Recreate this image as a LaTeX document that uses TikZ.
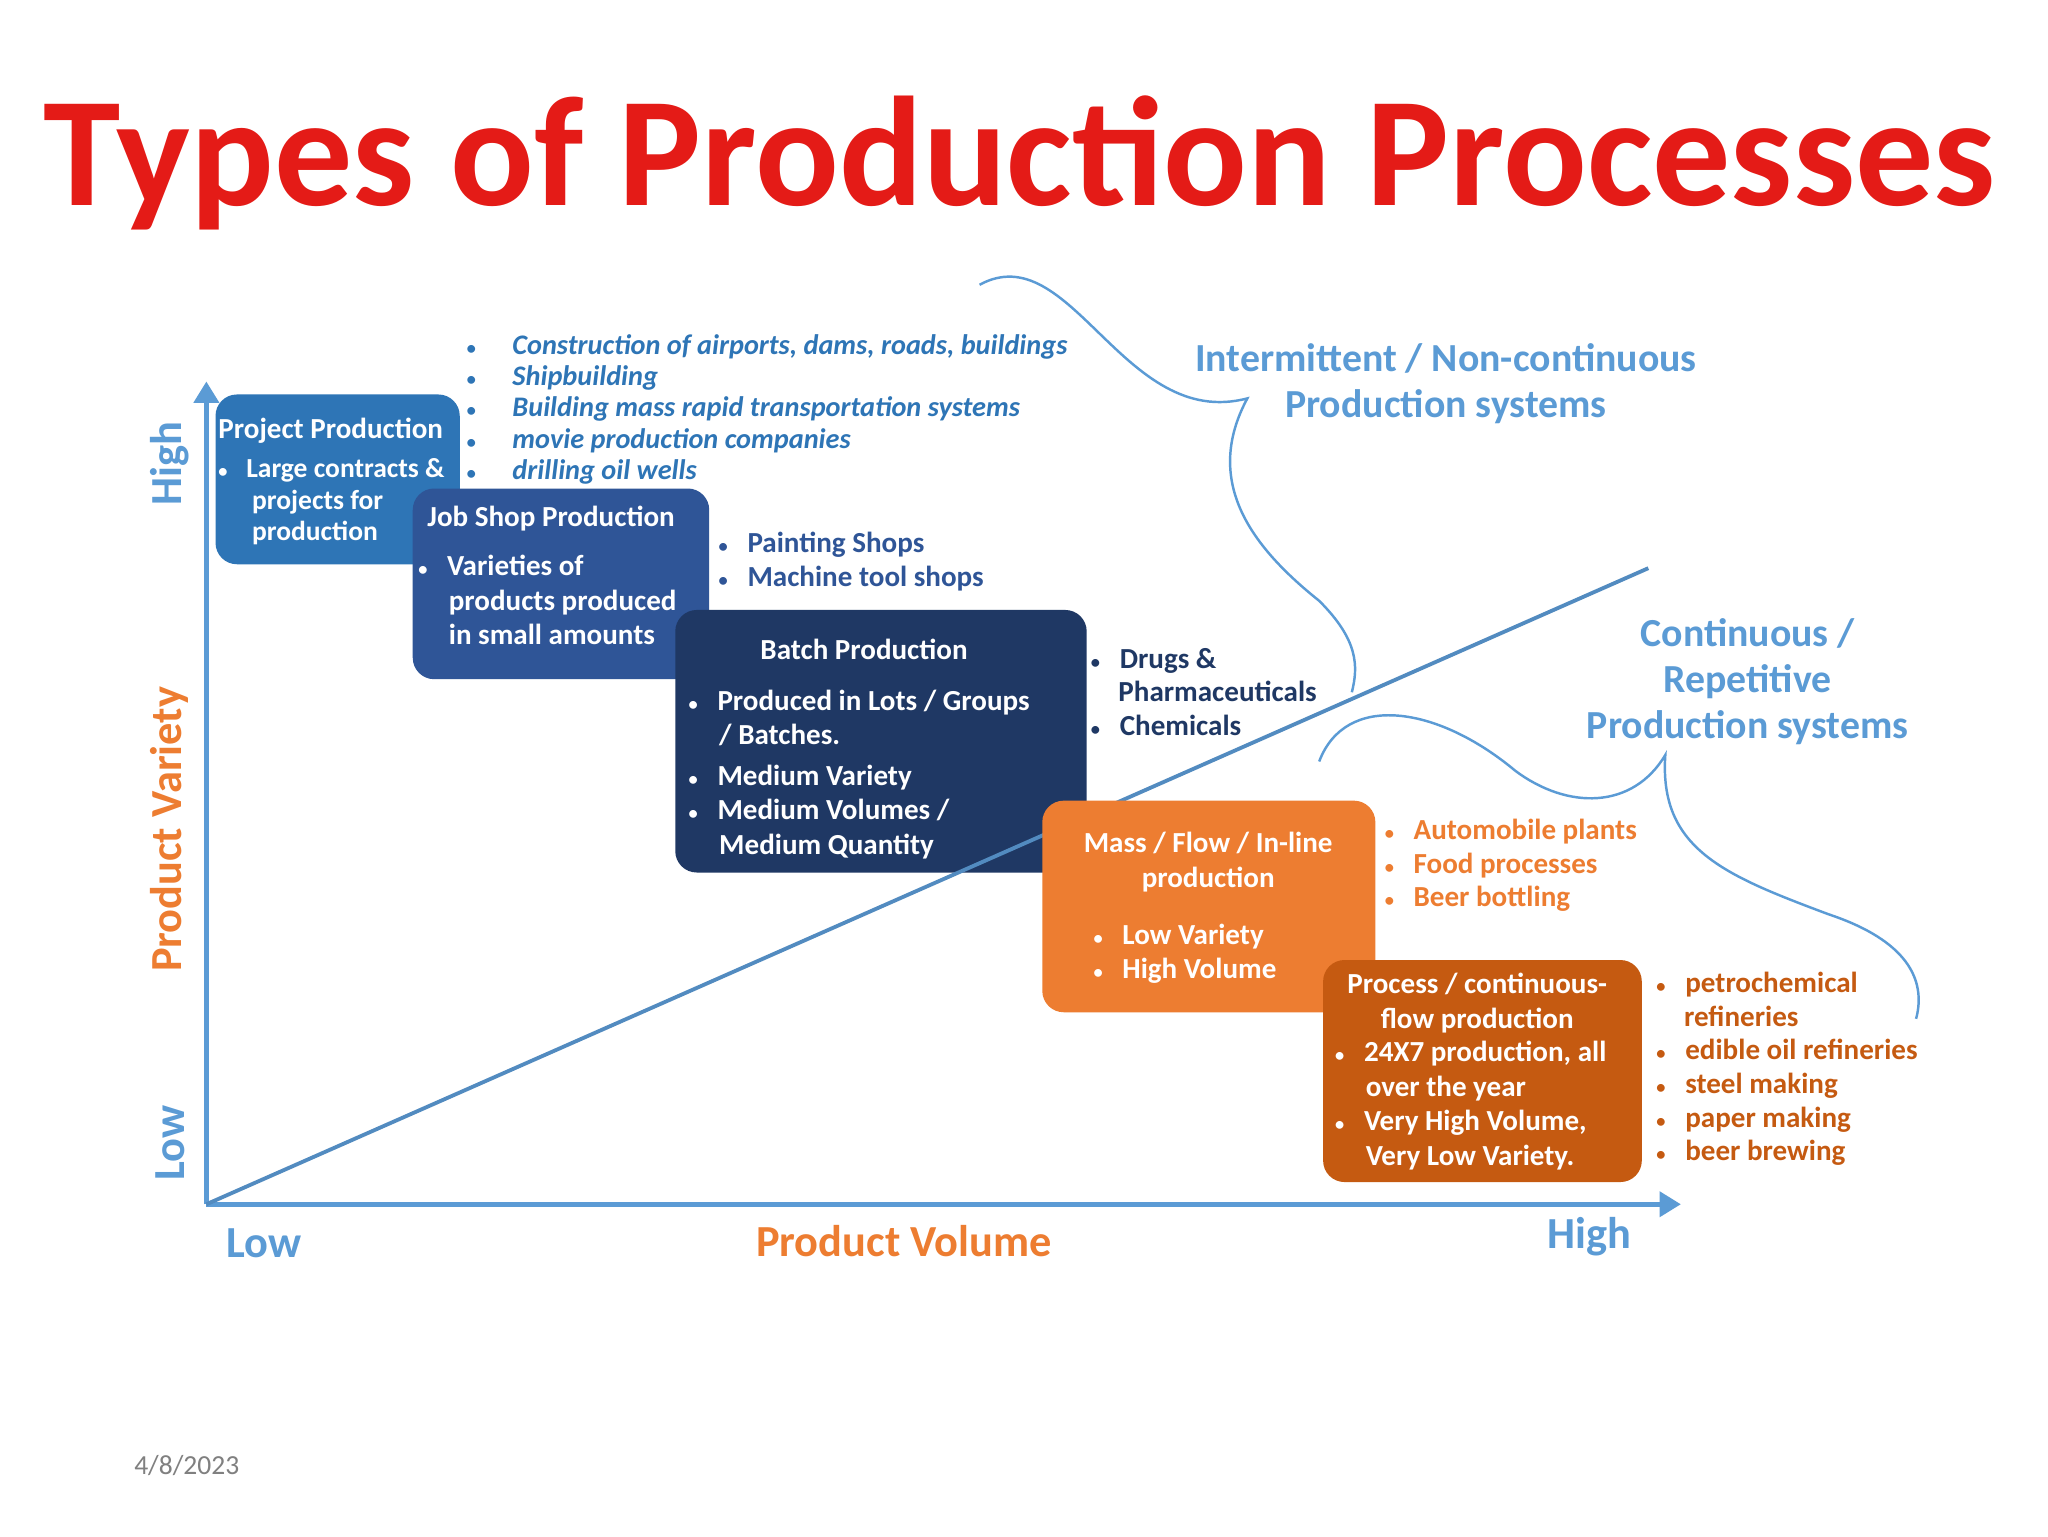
\documentclass[tikz,border=0pt]{standalone}
\usepackage{fontspec}
\setmainfont{Carlito}
\usetikzlibrary{arrows.meta}
\definecolor{cproj}{HTML}{2E75B6}
\definecolor{cjob}{HTML}{2F5597}
\definecolor{cbatch}{HTML}{1F3864}
\definecolor{cmass}{HTML}{ED7D31}
\definecolor{cproc}{HTML}{C55A11}
\definecolor{chead}{HTML}{5B9BD5}
\definecolor{ctitle}{HTML}{E41B17}
\newcommand{\bl}{{\fontsize{12}{12}\selectfont•}}
\begin{document}
\begin{tikzpicture}[x=0.3mm,y=-0.3mm,
  lst/.style={anchor=north west,align=left,font=\bfseries\fontsize{19}{22}\selectfont,inner sep=0pt},
  btxt/.style={anchor=north west,align=left,text=white,font=\bfseries\fontsize{19}{22.5}\selectfont,inner sep=0pt},
  head/.style={align=center,text=chead,font=\bfseries\fontsize{26}{30}\selectfont},
  axl/.style={font=\bfseries\fontsize{29}{30}\selectfont},
  ax/.style={line width=3.5pt,draw=chead,-{Triangle[length=14pt,width=16pt]}}]
\useasboundingbox (0,0) rectangle (1568,1176);
\fill[white] (0,0) rectangle (1568,1176);
\node[text=ctitle,font=\bfseries\fontsize{102}{110}\selectfont] (title) at (781,125) {Types of Production Processes};
% axes
\coordinate (o) at (158,922);
\coordinate (yt) at (158,292);
\coordinate (xt) at (1287,922);
\draw[ax] (o) -- (yt);
\draw[ax] (o) -- (xt);
\node[axl,text=chead,rotate=90] (yh) at (130,355) {High};
\node[axl,text=chead,rotate=90] (yl) at (130,875) {Low};
\node[axl,text=cmass,rotate=90] (yv) at (130,635) {Product Variety};
\node[axl,text=chead] (xl) at (202,952) {Low};
\node[axl,text=chead] (xh) at (1217,947) {High};
\node[axl,text=cmass] (xv) at (692,950) {Product Volume};
% boxes
\fill[cproj,rounded corners=14pt] (165,302) rectangle (352,432);
\node[btxt] (pt) at (167,320) {Project Production};
\node[btxt,font=\bfseries\fontsize{18}{20.5}\selectfont] (pl) at (167,351) {\bl\ \ \ Large contracts \&\\\hspace{22pt}projects for\\\hspace{22pt}production};
\fill[cjob,rounded corners=14pt] (316,374) rectangle (543,520);
\node[btxt] (jt) at (327,387) {Job Shop Production};
\node[btxt] (jl) at (320,425) {\bl\ \ \ Varieties of\\\hspace{20pt}products produced\\\hspace{20pt}in small amounts};
\fill[cbatch,rounded corners=14pt] (517,467) rectangle (832,668);
\node[btxt] (bt) at (582,489) {Batch Production};
\node[btxt] (bl) at (527,528) {\bl\ \ \ Produced in Lots / Groups\\\hspace{20pt}/ Batches.\\[4pt]\bl\ \ \ Medium Variety\\\bl\ \ \ Medium Volumes /\\\hspace{20pt}Medium Quantity};
\coordinate (de) at (1262,435);
\draw[line width=2.5pt,chead!90!black] (o) -- (de);
\fill[cmass,rounded corners=14pt] (798,613) rectangle (1053,775);
\node[btxt,align=center,anchor=north] (mt) at (925,637) {Mass / Flow / In-line\\production};
\node[btxt] (ml) at (837,707) {\bl\ \ \ Low Variety\\\bl\ \ \ High Volume};
\fill[cproc,rounded corners=14pt] (1013,735) rectangle (1257,905);
\node[btxt,align=center,anchor=north] (prt) at (1131,745) {Process / continuous-\\flow production};
\node[btxt] (prl) at (1022,797) {\bl\ \ \ 24X7 production, all\\\hspace{20pt}over the year\\\bl\ \ \ Very High Volume,\\\hspace{20pt}Very Low Variety.};
% lists
\node[lst,text=cproj,font=\bfseries\itshape\fontsize{18.5}{20.4}\selectfont] (l1) at (357,256) {\bl\hspace{24pt}Construction of airports, dams, roads, buildings\\\bl\hspace{24pt}Shipbuilding\\\bl\hspace{24pt}Building mass rapid transportation systems\\\bl\hspace{24pt}movie production companies\\\bl\hspace{24pt}drilling oil wells};
\node[lst,text=cjob] (l2) at (550,407) {\bl\ \ \ Painting Shops\\\bl\ \ \ Machine tool shops};
\node[lst,text=cbatch] (l3) at (835,496) {\bl\ \ \ Drugs \&\\\hspace{18pt}Pharmaceuticals\\\bl\ \ \ Chemicals};
\node[lst,text=cmass] (l4) at (1060,627) {\bl\ \ \ Automobile plants\\\bl\ \ \ Food processes\\\bl\ \ \ Beer bottling};
\node[lst,text=cproc] (l5) at (1268,744) {\bl\ \ \ petrochemical\\\hspace{18pt}refineries\\\bl\ \ \ edible oil refineries\\\bl\ \ \ steel making\\\bl\ \ \ paper making\\\bl\ \ \ beer brewing};
% headings and braces
\node[head] (h1) at (1107,294) {Intermittent / Non-continuous\\Production systems};
\node[head] (h2) at (1338,522) {Continuous /\\Repetitive\\Production systems};
\coordinate (b1a) at (750,218);
\coordinate (b1t) at (955,305);
\coordinate (b1b) at (1035,530);
\draw[line width=1.6pt,chead] (b1a) .. controls (820,180) and (860,330) .. (b1t) .. controls (920,370) and (960,420) .. (1010,460) .. controls (1040,490) and (1040,510) .. (b1b);
\coordinate (b2a) at (1010,583);
\coordinate (b2t) at (1275,578);
\coordinate (b2b) at (1467,780);
\draw[line width=1.6pt,chead] (b2a) .. controls (1030,530) and (1100,540) .. (1160,590) .. controls (1200,620) and (1250,620) .. (b2t) .. controls (1270,650) and (1320,670) .. (1400,700) .. controls (1460,720) and (1475,750) .. (b2b);
\node[text=gray,font=\fontsize{18}{20}\selectfont] (date) at (143,1122) {4/8/2023};
\end{tikzpicture}
\end{document}
